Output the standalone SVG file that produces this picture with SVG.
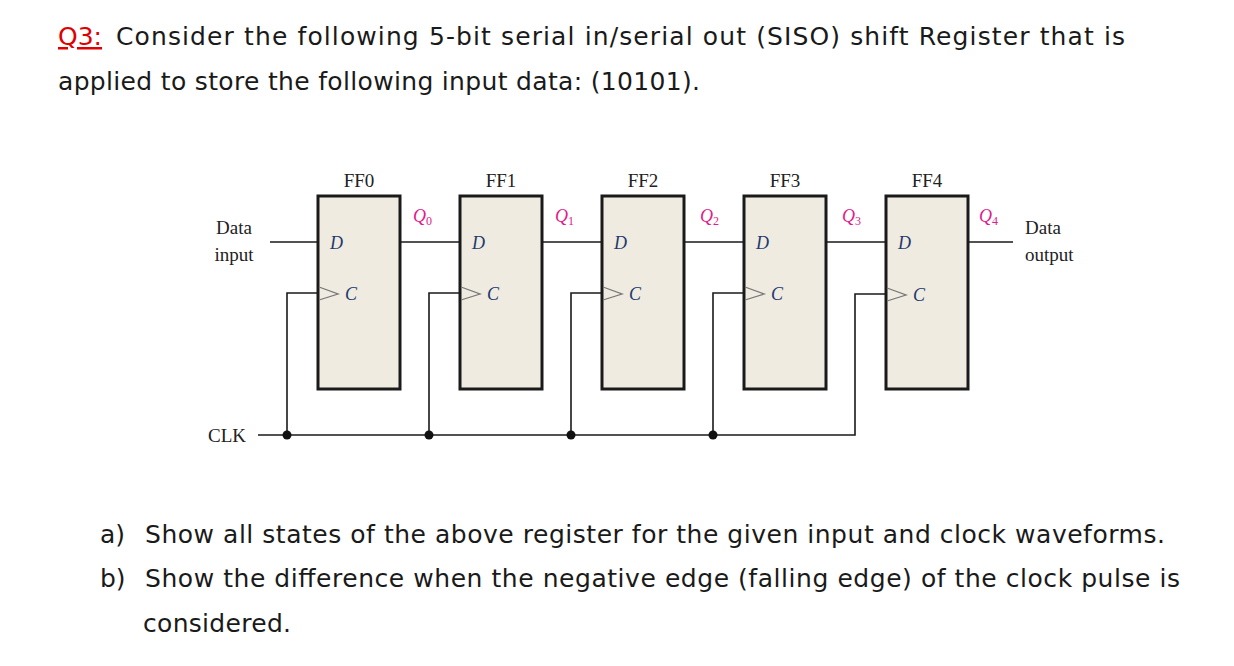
<svg xmlns="http://www.w3.org/2000/svg" width="1234" height="666" viewBox="0 0 1234 666">
<style>
.t{font-family:"DejaVu Sans",sans-serif;font-size:25px;fill:#1a1a1a}
.s{font-family:"Liberation Serif",serif;font-size:19px;fill:#222}
.i{font-family:"Liberation Serif",serif;font-size:18px;font-style:italic;fill:#1f3a6e}
.q{font-family:"Liberation Serif",serif;font-size:18px;font-style:italic;fill:#e0208a}
.qs{font-size:12px;font-style:normal}
.box{fill:#efebe1;stroke:#1a1a1a;stroke-width:3}
.w{stroke:#1a1a1a;stroke-width:1.6;fill:none}
.ck{stroke:#777;stroke-width:1.3;fill:none}
</style>
<rect width="1234" height="666" fill="#fff"/>
<text x="58" y="45" class="t"><tspan fill="#e00000" text-decoration="underline">Q3:</tspan></text>
<text x="116" y="45" class="t" textLength="1009" lengthAdjust="spacing">Consider the following 5-bit serial in/serial out (SISO) shift Register that is</text>
<text x="58" y="90" class="t" textLength="642" lengthAdjust="spacing">applied to store the following input data: (10101).</text>
<text x="100" y="543" class="t">a)</text>
<text x="145" y="543" class="t" textLength="1020" lengthAdjust="spacing">Show all states of the above register for the given input and clock waveforms.</text>
<text x="100" y="587" class="t">b)</text>
<text x="145" y="587" class="t" textLength="1035" lengthAdjust="spacing">Show the difference when the negative edge (falling edge) of the clock pulse is</text>
<text x="143" y="632" class="t" textLength="148" lengthAdjust="spacing">considered.</text>
<g id="connectors">
<path class="w" d="M270 242H318M400 242H460M542 242H602M684 242H744M826 242H886M968 242H1013"/>
<path class="w" d="M258 435H855V294H886M287 435V293H318M429 435V293H460M571 435V293H602M713 435V293H744"/>
<circle cx="287" cy="435" r="4.5" fill="#111"/><circle cx="429" cy="435" r="4.5" fill="#111"/><circle cx="571" cy="435" r="4.5" fill="#111"/><circle cx="713" cy="435" r="4.5" fill="#111"/>
</g>
<g id="labels">
<text x="234" y="234" class="s" text-anchor="middle">Data</text>
<text x="234" y="261" class="s" text-anchor="middle">input</text>
<text x="227" y="442" class="s" text-anchor="middle">CLK</text>
<text x="1025" y="234" class="s">Data</text>
<text x="1025" y="261" class="s">output</text>
</g>
<g id="ff0"><rect class="box" x="318" y="196" width="82" height="193"/><text x="359" y="187" class="s" text-anchor="middle">FF0</text><text x="330" y="249" class="i">D</text><path class="ck" d="M319 287L338 294L319 300"/><text x="345" y="300" class="i">C</text><text x="413" y="222" class="q">Q<tspan class="qs" dy="3">0</tspan></text></g>
<g id="ff1"><rect class="box" x="460" y="196" width="82" height="193"/><text x="501" y="187" class="s" text-anchor="middle">FF1</text><text x="472" y="249" class="i">D</text><path class="ck" d="M461 287L480 294L461 300"/><text x="487" y="300" class="i">C</text><text x="555" y="222" class="q">Q<tspan class="qs" dy="3">1</tspan></text></g>
<g id="ff2"><rect class="box" x="602" y="196" width="82" height="193"/><text x="643" y="187" class="s" text-anchor="middle">FF2</text><text x="614" y="249" class="i">D</text><path class="ck" d="M603 287L622 294L603 300"/><text x="629" y="300" class="i">C</text><text x="700" y="222" class="q">Q<tspan class="qs" dy="3">2</tspan></text></g>
<g id="ff3"><rect class="box" x="744" y="196" width="82" height="193"/><text x="785" y="187" class="s" text-anchor="middle">FF3</text><text x="756" y="249" class="i">D</text><path class="ck" d="M745 287L764 294L745 300"/><text x="771" y="300" class="i">C</text><text x="842" y="222" class="q">Q<tspan class="qs" dy="3">3</tspan></text></g>
<g id="ff4"><rect class="box" x="886" y="196" width="82" height="193"/><text x="927" y="187" class="s" text-anchor="middle">FF4</text><text x="898" y="249" class="i">D</text><path class="ck" d="M887 288L906 295L887 301"/><text x="913" y="301" class="i">C</text><text x="979" y="222" class="q">Q<tspan class="qs" dy="3">4</tspan></text></g>
</svg>
